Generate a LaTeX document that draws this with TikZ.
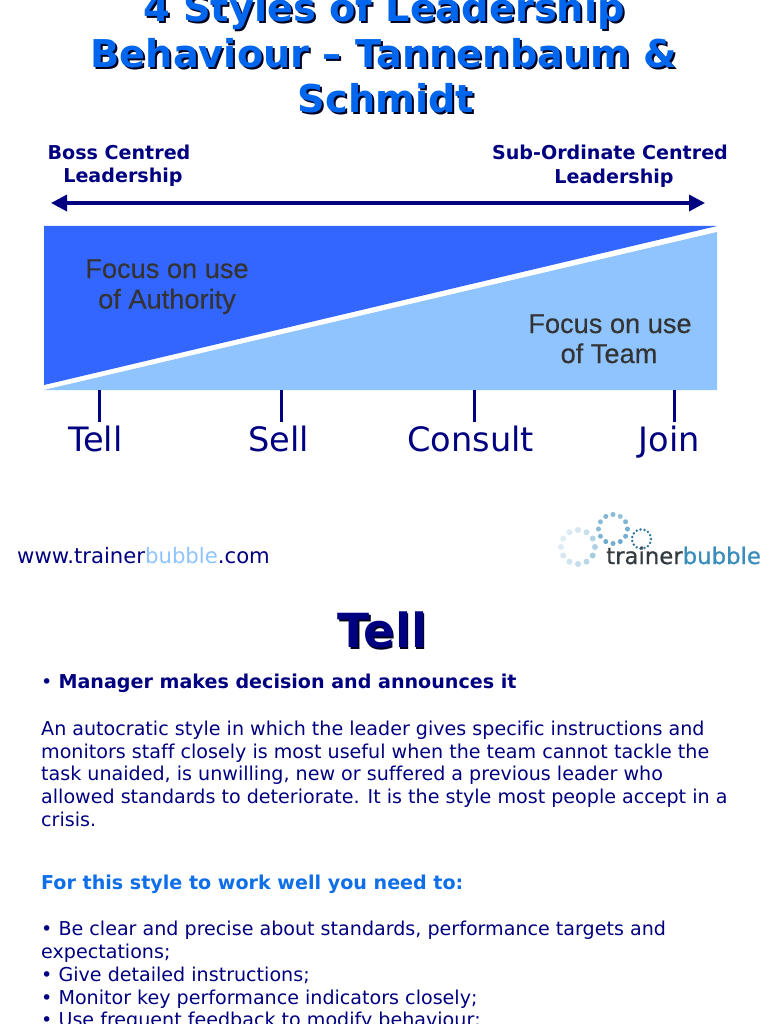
\documentclass[tikz,border=0pt]{standalone}
\usepackage{fontspec}
\setmainfont[Ligatures=CommonOff]{DejaVu Sans}
\newfontfamily\arialf[FakeBold=0.35]{Liberation Sans}
\newfontfamily\logof[FakeBold=0.6]{DejaVu Sans}
\usetikzlibrary{arrows.meta}
\definecolor{navy}{HTML}{000080}
\definecolor{titleblue}{HTML}{0066EE}
\definecolor{darkwedge}{HTML}{3366FF}
\definecolor{lightwedge}{HTML}{8FC4FF}
\definecolor{focusgrey}{HTML}{333333}
\definecolor{linkblue}{HTML}{0F6FE8}
\definecolor{logodark}{HTML}{333A40}
\definecolor{logoblue}{HTML}{3A8DBB}
\tikzset{
  x=1pt,y=-1pt,
  txt/.style={anchor=base west,inner sep=0pt,text=navy,font=\fontsize{19.1}{23}\selectfont},
  ctr/.style={anchor=base,inner sep=0pt,text=navy,align=center},
  headtxt/.style={ctr,font=\fontsize{19.1}{23}\selectfont\bfseries},
  focus/.style={anchor=base,inner sep=0pt,text=focusgrey,font=\arialf\fontsize{27.2}{30}\selectfont},
  tickl/.style={anchor=base,inner sep=0pt,text=navy,font=\fontsize{33.6}{40}\selectfont},
  tick/.style={draw=navy,line width=3pt},
  titlef/.style={anchor=base,inner sep=0pt,font=\fontsize{38.3}{45}\selectfont\bfseries},
  bigtell/.style={anchor=base,inner sep=0pt,font=\fontsize{47}{50}\selectfont\bfseries},
}
\newcommand{\titleline}[4]{%
  \node[titlef,text=black!75!navy] at (#1+2,#2+2) {#3};
  \node[titlef,text=titleblue] (#4) at (#1,#2) {#3};}
\begin{document}
\begin{tikzpicture}
\useasboundingbox (0,0) rectangle (768,1024);
\fill[white] (0,0) rectangle (768,1024);
\begin{scope}
\clip (0,0) rectangle (768,1024);
% title
\titleline{384}{22}{4 Styles of Leadership}{t1}
\titleline{384}{67.5}{Behaviour – Tannenbaum \&}{t2}
\titleline{386}{113}{Schmidt}{t3}
% heads
\node[headtxt] (boss1) at (119,160) {Boss Centred};
\node[headtxt] (boss2) at (123,183) {Leadership};
\node[headtxt] (sub1) at (610,160) {Sub-Ordinate Centred};
\node[headtxt] (sub2) at (614,184) {Leadership};
% arrow
\coordinate (al) at (51,203);
\coordinate (ar) at (705,203);
\draw[navy,line width=3.4pt,{Triangle[length=16pt,width=16pt]}-{Triangle[length=16pt,width=16pt]}] (al) -- (ar);
% wedges
\fill[darkwedge] (44,226) -- (717,226) -- (44,385) -- cycle;
\fill[lightwedge] (717,232) -- (717,390) -- (44,390) -- cycle;
\node[focus] (fa1) at (167,278) {Focus on use};
\node[focus] (fa2) at (167,308.5) {of Authority};
\node[focus] (ft1) at (610,333) {Focus on use};
\node[focus] (ft2) at (609,363) {of Team};
% tick labels
\node[tickl] (tell) at (95.5,451) {Tell};
\node[tickl] (sell) at (278.5,451) {Sell};
\node[tickl] (consult) at (470.5,451) {Consult};
\node[tickl] (join) at (669.5,451) {Join};
\coordinate (c1) at (99.5,390);
\coordinate (c2) at (281,390);
\coordinate (c3) at (474,390);
\coordinate (c4) at (674,390);
\draw[tick] (c1) -- (99.5,422);
\draw[tick] (c2) -- (281,422);
\draw[tick] (c3) -- (474,422);
\draw[tick] (c4) -- (674,422);
% website
\node[txt,font=\fontsize{21.2}{23}\selectfont] (web) at (17,563.5) {www.trainer{\color{lightwedge}bubble}.com};
% logo
\foreach \a/\o in {0/40,30/45,60/35,90/30,120/24,150/20,180/17,210/16,240/18,270/22,300/28,330/38}
  \fill[logoblue!\o!white] ({578+17*cos(\a)},{547+17*sin(\a)}) circle (3);
\foreach \a/\o in {0/70,30/70,60/75,90/70,120/75,150/65,180/60,210/60,240/65,270/60,300/55,330/65}
  \fill[logoblue!\o!white] ({613+14.5*cos(\a)},{529+14.5*sin(\a)}) circle (2.5);
\foreach \a in {0,24,...,359}
  \fill[logoblue!85!black] ({641.5+9.5*cos(\a)},{539+9.5*sin(\a)}) circle (1.35);
\node[anchor=base west,inner sep=0pt,font=\logof\fontsize{22.8}{24}\selectfont,text=logodark] (logo) at (606,564) {trainer{\color{logoblue}bubble}};
% body
\node[bigtell,text=black!75!navy] at (384,649) {Tell};
\node[bigtell,text=navy] (bt) at (382.5,647.5) {Tell};
\node[txt] (l1) at (41,688) {• {\bfseries Manager makes decision and announces it}};
\node[txt] (l2) at (41,735) {An autocratic style in which the leader gives specific instructions and};
\node[txt] (l3) at (41,758) {monitors staff closely is most useful when the team cannot tackle the};
\node[txt] (l4) at (41,780.5) {task unaided, is unwilling, new or suffered a previous leader who};
\node[txt] (l5) at (41,803.5) {allowed standards to deteriorate. It is the style most people accept in a};
\node[txt] (l6) at (41,826.5) {crisis.};
\node[txt,text=linkblue,font=\fontsize{19.1}{23}\selectfont\bfseries] (l7) at (41,889) {For this style to work well you need to:};
\node[txt] (l8) at (41,935) {• Be clear and precise about standards, performance targets and};
\node[txt] (l9) at (41,958) {expectations;};
\node[txt] (l10) at (41,981) {• Give detailed instructions;};
\node[txt] (l11) at (41,1004.5) {• Monitor key performance indicators closely;};
\node[txt] (l12) at (41,1026.5) {• Use frequent feedback to modify behaviour;};
\end{scope}
\end{tikzpicture}
\end{document}
